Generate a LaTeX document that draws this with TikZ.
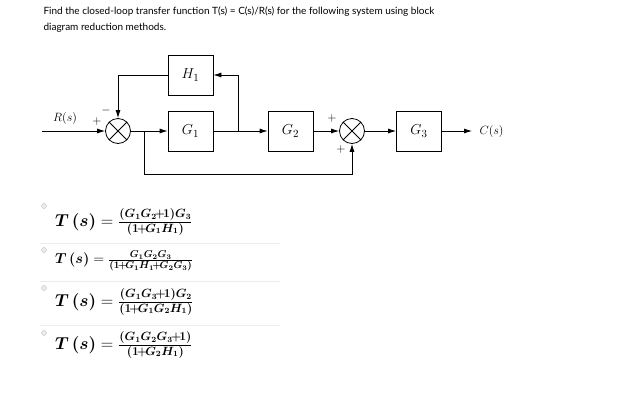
\documentclass[tikz,border=0pt]{standalone}
\usepackage{amsmath,bm}
\usepackage{fontspec}
\setmainfont{Lato}
\usetikzlibrary{arrows.meta}
\begin{document}
\begin{tikzpicture}[x=1pt,y=-1pt,
 blk/.style={draw,line width=0.8pt,minimum width=45pt,minimum height=40pt,inner sep=0pt,font=\rmfamily\fontsize{15}{17}\selectfont},
 sj/.style={draw,line width=0.8pt,circle,minimum size=25pt,inner sep=0pt},
 sig/.style={line width=0.8pt,-{Latex[length=8pt,width=5pt]}},
 ln/.style={line width=0.8pt},
 lab/.style={font=\rmfamily\fontsize{12}{14}\selectfont},
 rb/.style={draw=gray!50,fill=gray!15,circle,minimum size=5pt,inner sep=0pt},
 eq/.style={anchor=west,inner sep=0pt}]
\useasboundingbox (0,0) rectangle (619,408);
\node[anchor=west,font=\fontsize{10}{12}\selectfont] (t1) at (40,12) {Find the closed-loop transfer function T(s) = C(s)/R(s) for the following system using block};
\node[anchor=west,font=\fontsize{10}{12}\selectfont] (t2) at (40,28) {diagram reduction methods.};
% blocks
\node[blk] (H1) at (190.5,75) {$H_1$};
\node[blk] (G1) at (190.5,131) {$G_1$};
\node[blk] (G2) at (290.5,131) {$G_2$};
\node[blk] (G3) at (419,131) {$G_3$};
\node[sj] (S1) at (118,131) {};
\node[sj] (S2) at (352,131) {};
\draw[ln] (S1.north west)--(S1.south east) (S1.north east)--(S1.south west);
\draw[ln] (S2.north west)--(S2.south east) (S2.north east)--(S2.south west);
\coordinate (R) at (42,131);
\coordinate (C) at (472,131);
\coordinate (b1) at (144,131);
\coordinate (b2) at (238,131);
\node[lab] (Rl) at (65,118) {$R(s)$};
\node[lab,anchor=west] (Cl) at (476,131) {$C(s)$};
\draw[sig] (R)--(S1);
\draw[sig] (S1)--(G1);
\draw[sig] (G1)--(G2);
\draw[sig] (G2)--(S2);
\draw[sig] (S2)--(G3);
\draw[sig] (G3)--(C);
\draw[sig] (b2)|-(H1.east);
\draw[sig] (H1.west)-|(S1.north);
\draw[sig] (b1)--(144,174)-|(S2.south);
\node[lab] (p1) at (97,121) {$+$};
\node[lab] (m1) at (106,110) {$-$};
\node[lab] (p2) at (332,118) {$+$};
\node[lab] (p3) at (341,149) {$+$};
% answers
\foreach \y/\n in {206/a,250/b,288/c,333/d} \node[rb] (r\n) at (44,\y) {};
\draw[gray!15,line width=1pt] (40,243)--(280,243) (40,281)--(280,281) (40,325)--(280,325);
\node[eq] (e1) at (55,222) {\fontsize{17}{20}\selectfont$\bm{T\,(s)} = \frac{\bm{(G_1G_2\!+\!1)G_3}}{\bm{(1\!+\!G_1H_1)}}$};
\node[eq] (e2) at (55,261) {\fontsize{14}{17}\selectfont$\bm{T\,(s)} = \frac{\bm{G_1G_2G_3}}{\bm{(1\!+\!G_1H_1\!+\!G_2G_3)}}$};
\node[eq] (e3) at (55,302) {\fontsize{17}{20}\selectfont$\bm{T\,(s)} = \frac{\bm{(G_1G_3\!+\!1)G_2}}{\bm{(1\!+\!G_1G_2H_1)}}$};
\node[eq] (e4) at (55,345) {\fontsize{17}{20}\selectfont$\bm{T\,(s)} = \frac{\bm{(G_1G_2G_3\!+\!1)}}{\bm{(1\!+\!G_2H_1)}}$};
\end{tikzpicture}
\end{document}
